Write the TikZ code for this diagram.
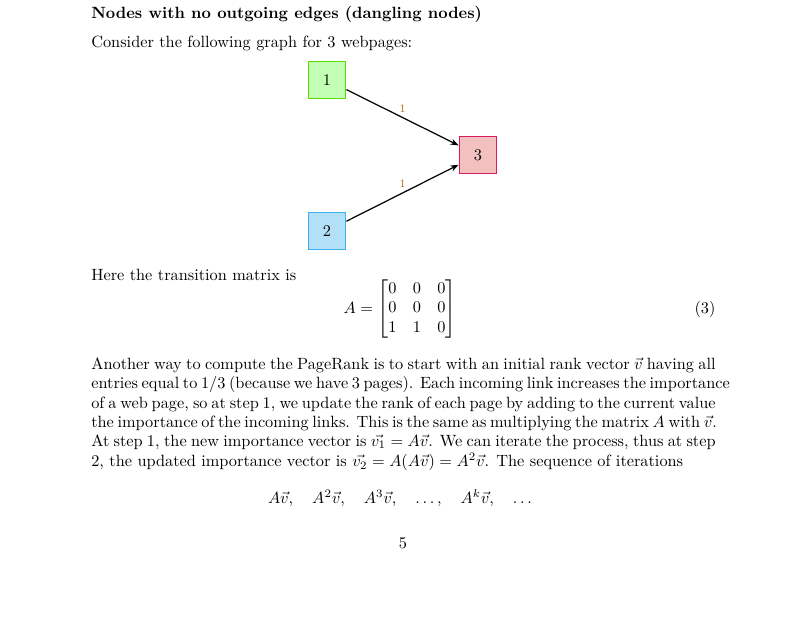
\documentclass[tikz,border=0pt]{standalone}
\usepackage{amsmath}
\usetikzlibrary{arrows.meta}
\definecolor{gfill}{HTML}{C2FFB4}\definecolor{gdraw}{HTML}{55E000}
\definecolor{bfill}{HTML}{B3E0F7}\definecolor{bdraw}{HTML}{3AB0F0}
\definecolor{rfill}{HTML}{F3C0C0}\definecolor{rdraw}{HTML}{D81B60}
\definecolor{lab}{HTML}{B86A10}
\begin{document}
\begin{tikzpicture}[x=0.6135pt,y=-0.6135pt,
  pg/.style={minimum width=23pt,minimum height=22.5pt,line width=0.8pt,inner sep=0},
  ln/.style={anchor=west,inner sep=0},
  el/.style={font=\scriptsize,text=lab,inner sep=2pt},
  ar/.style={-{Stealth[length=5pt]},line width=0.75pt}]
\useasboundingbox (0,0) rectangle (799,638);
\node[ln] (t) at (91,14) {\bfseries Nodes with no outgoing edges (dangling nodes)};
\node[ln] (c) at (91,43) {Consider the following graph for 3 webpages:};
\node[pg,fill=gfill,draw=gdraw] (n1) at (327,80) {1};
\node[pg,fill=bfill,draw=bdraw] (n2) at (327,231) {2};
\node[pg,fill=rfill,draw=rdraw] (n3) at (478,155) {3};
\draw[ar] (n1) -- node[el,pos=0.5,above=1pt] {1} (n3);
\draw[ar] (n2) -- node[el,pos=0.5,above=1pt] {1} (n3);
\node[ln] (h) at (91,275) {Here the transition matrix is};
\node (m) at (400,309) {$A=\begin{bmatrix}0&0&0\\0&0&0\\1&1&0\end{bmatrix}$};
\node (en) at (705,309) {(3)};
\node[ln] (l1) at (91,365) {\makebox[383pt][s]{Another way to compute the PageRank is to start with an initial rank vector $\vec{v}$ having all}};
\node[ln] (l2) at (91,384) {\makebox[383pt][s]{entries equal to 1/3 (because we have 3 pages). Each incoming link increases the importance}};
\node[ln] (l3) at (91,404) {\makebox[383pt][s]{of a web page, so at step 1, we update the rank of each page by adding to the current value}};
\node[ln] (l4) at (91,423) {\makebox[383pt][s]{the importance of the incoming links. This is the same as multiplying the matrix $A$ with $\vec{v}$.}};
\node[ln] (l5) at (91,442) {\makebox[383pt][s]{At step 1, the new importance vector is $\vec{v_1}=A\vec{v}$. We can iterate the process, thus at step}};
\node[ln] (l6) at (91,462) {2, the updated importance vector is $\vec{v_2}=A(A\vec{v})=A^2\vec{v}$. The sequence of iterations};
\node (eq) at (400,498) {$A\vec{v},\quad A^2\vec{v},\quad A^3\vec{v},\quad \ldots,\quad A^k\vec{v},\quad \ldots$};
\node (pn) at (403,543) {5};
\end{tikzpicture}
\end{document}
